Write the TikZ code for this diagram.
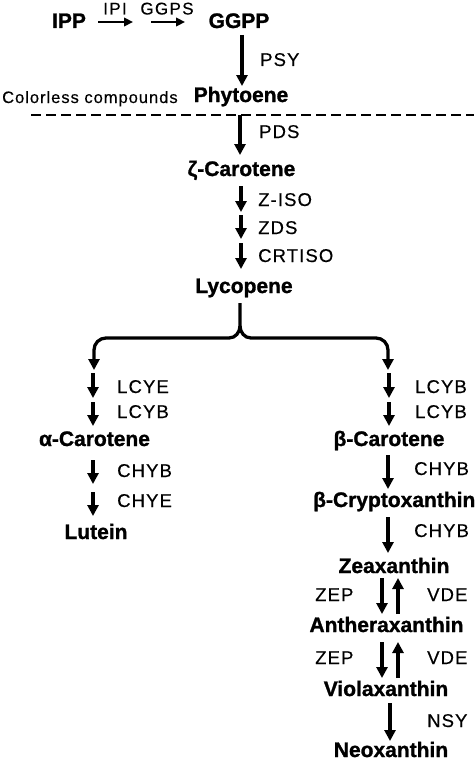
\documentclass[tikz,border=0pt]{standalone}
\usepackage{fontspec}
\setmainfont{Liberation Sans}
\newfontfamily\labfont[LetterSpace=6,FakeBold=0.4]{Liberation Sans}
\newfontfamily\toplabfont[LetterSpace=8,FakeBold=0.4]{Liberation Sans}
\newfontfamily\cmpfont[FakeBold=1.2]{Liberation Sans Bold}
\usetikzlibrary{arrows.meta}
\begin{document}
\begin{tikzpicture}[x=1pt,y=-1pt,
  cmp/.style={font=\cmpfont\fontsize{21}{23}\selectfont, inner sep=0pt, anchor=base},
  lbl/.style={font=\labfont\fontsize{18.5}{20}\selectfont, inner sep=0pt, anchor=base west},
  toplbl/.style={font=\toplabfont\fontsize{17}{19}\selectfont, inner sep=0pt, anchor=base},
  arr/.style={line width=3.6pt, -{Triangle[length=11pt,width=11pt]}},
  harr/.style={line width=2.6pt, -{Triangle[length=9pt,width=8.5pt]}},
  brace/.style={line width=3.3pt, -{Triangle[length=11pt,width=11pt]}},
  sep/.style={line width=2.6pt, dash pattern=on 10pt off 5pt}]
\useasboundingbox (0,0) rectangle (474,760);
% compounds
\node[cmp] (ipp) at (69,28) {IPP};
\node[cmp] (ggpp) at (239,28) {GGPP};
\node[cmp] (phy) at (241,102) {Phytoene};
\node[cmp] (zeta) at (241.5,176) {ζ-Carotene};
\node[cmp] (lyc) at (244,293) {Lycopene};
\node[cmp] (alpha) at (94.5,446) {α-Carotene};
\node[cmp] (lut) at (96,539) {Lutein};
\node[cmp] (beta) at (389,446) {β-Carotene};
\node[cmp, anchor=base west] (cry) at (313,507) {β-Cryptoxanthin};
\node[cmp] (zea) at (394,573) {Zeaxanthin};
\node[cmp] (ant) at (386.5,632) {Antheraxanthin};
\node[cmp] (vio) at (386,696) {Violaxanthin};
\node[cmp] (neo) at (391,757) {Neoxanthin};
% labels
\node[toplbl] (ipi) at (115,14.5) {IPI};
\node[toplbl] (ggps) at (167,14.5) {GGPS};
\node[lbl] (psy) at (260,66) {PSY};
\node[lbl, font=\labfont\fontsize{16.5}{18}\selectfont] (col) at (2,103) {Colorless compounds};
\node[lbl] (pds) at (259,138) {PDS};
\node[lbl] (ziso) at (258,206) {Z-ISO};
\node[lbl] (zds) at (258,234) {ZDS};
\node[lbl] (crt) at (258,262) {CRTISO};
\node[lbl] (lcye) at (117,393) {LCYE};
\node[lbl] (lcyba) at (117,418) {LCYB};
\node[lbl] (chyba) at (117,477) {CHYB};
\node[lbl] (chye) at (117,507) {CHYE};
\node[lbl] (lcybb) at (415,393) {LCYB};
\node[lbl] (lcybc) at (415,418) {LCYB};
\node[lbl] (chybb) at (414,475) {CHYB};
\node[lbl] (chybc) at (414,537) {CHYB};
\node[lbl] (zepa) at (315,601) {ZEP};
\node[lbl] (vdea) at (427,601) {VDE};
\node[lbl] (zepb) at (315,664) {ZEP};
\node[lbl] (vdeb) at (427,664) {VDE};
\node[lbl] (nsy) at (427,727) {NSY};
% arrow end points
\coordinate (a1s) at (98,22);   \coordinate (a1e) at (133,22);
\coordinate (a2s) at (151,22);  \coordinate (a2e) at (185,22);
\coordinate (psys) at (242,35); \coordinate (psye) at (242,86);
\coordinate (pdss) at (240,115); \coordinate (pdse) at (240,155);
\coordinate (zis) at (241,186); \coordinate (zie) at (241,212);
\coordinate (zds1) at (241,215); \coordinate (zds2) at (241,239);
\coordinate (crs) at (241,243); \coordinate (cre) at (241,269);
\coordinate (br0) at (240,303); \coordinate (br1) at (240,326);
\coordinate (brl) at (94,370);  \coordinate (brr) at (388,370);
\coordinate (l1s) at (93,373); \coordinate (l1e) at (93,398);
\coordinate (l2s) at (93,402); \coordinate (l2e) at (93,426);
\coordinate (l3s) at (93,460); \coordinate (l3e) at (93,484);
\coordinate (l4s) at (93,492); \coordinate (l4e) at (93,516);
\coordinate (r1s) at (389,373); \coordinate (r1e) at (389,398);
\coordinate (r2s) at (389,402); \coordinate (r2e) at (389,426);
\coordinate (r3s) at (388,455); \coordinate (r3e) at (388,489);
\coordinate (r4s) at (388,517); \coordinate (r4e) at (388,553);
\coordinate (z1t) at (382,578); \coordinate (z1b) at (382,614);
\coordinate (v1t) at (398,578); \coordinate (v1b) at (398,614);
\coordinate (z2t) at (382,642); \coordinate (z2b) at (382,678);
\coordinate (v2t) at (398,642); \coordinate (v2b) at (398,678);
\coordinate (ns) at (390,703); \coordinate (ne) at (390,741);
\coordinate (dl) at (31,115); \coordinate (dr) at (474,115);
% connectors
\draw[harr] (a1s) -- (a1e);
\draw[harr] (a2s) -- (a2e);
\draw[arr] (psys) -- (psye);
\draw[sep] (dl) -- (dr);
\draw[arr] (pdss) -- (pdse);
\draw[arr] (zis) -- (zie);
\draw[arr] (zds1) -- (zds2);
\draw[arr] (crs) -- (cre);
\draw[brace] (br0) -- (br1) to[out=-90,in=0] (229,338) -- (106,338) to[out=180,in=90] (brl|-0,350) -- (brl);
\draw[brace] (br1) to[out=-90,in=180] (251,338) -- (376,338) to[out=0,in=90] (brr|-0,350) -- (brr);
\draw[arr] (l1s) -- (l1e);
\draw[arr] (l2s) -- (l2e);
\draw[arr] (l3s) -- (l3e);
\draw[arr] (l4s) -- (l4e);
\draw[arr] (r1s) -- (r1e);
\draw[arr] (r2s) -- (r2e);
\draw[arr] (r3s) -- (r3e);
\draw[arr] (r4s) -- (r4e);
\draw[arr] (z1t) -- (z1b);
\draw[arr] (v1b) -- (v1t);
\draw[arr] (z2t) -- (z2b);
\draw[arr] (v2b) -- (v2t);
\draw[arr] (ns) -- (ne);
\end{tikzpicture}
\end{document}
